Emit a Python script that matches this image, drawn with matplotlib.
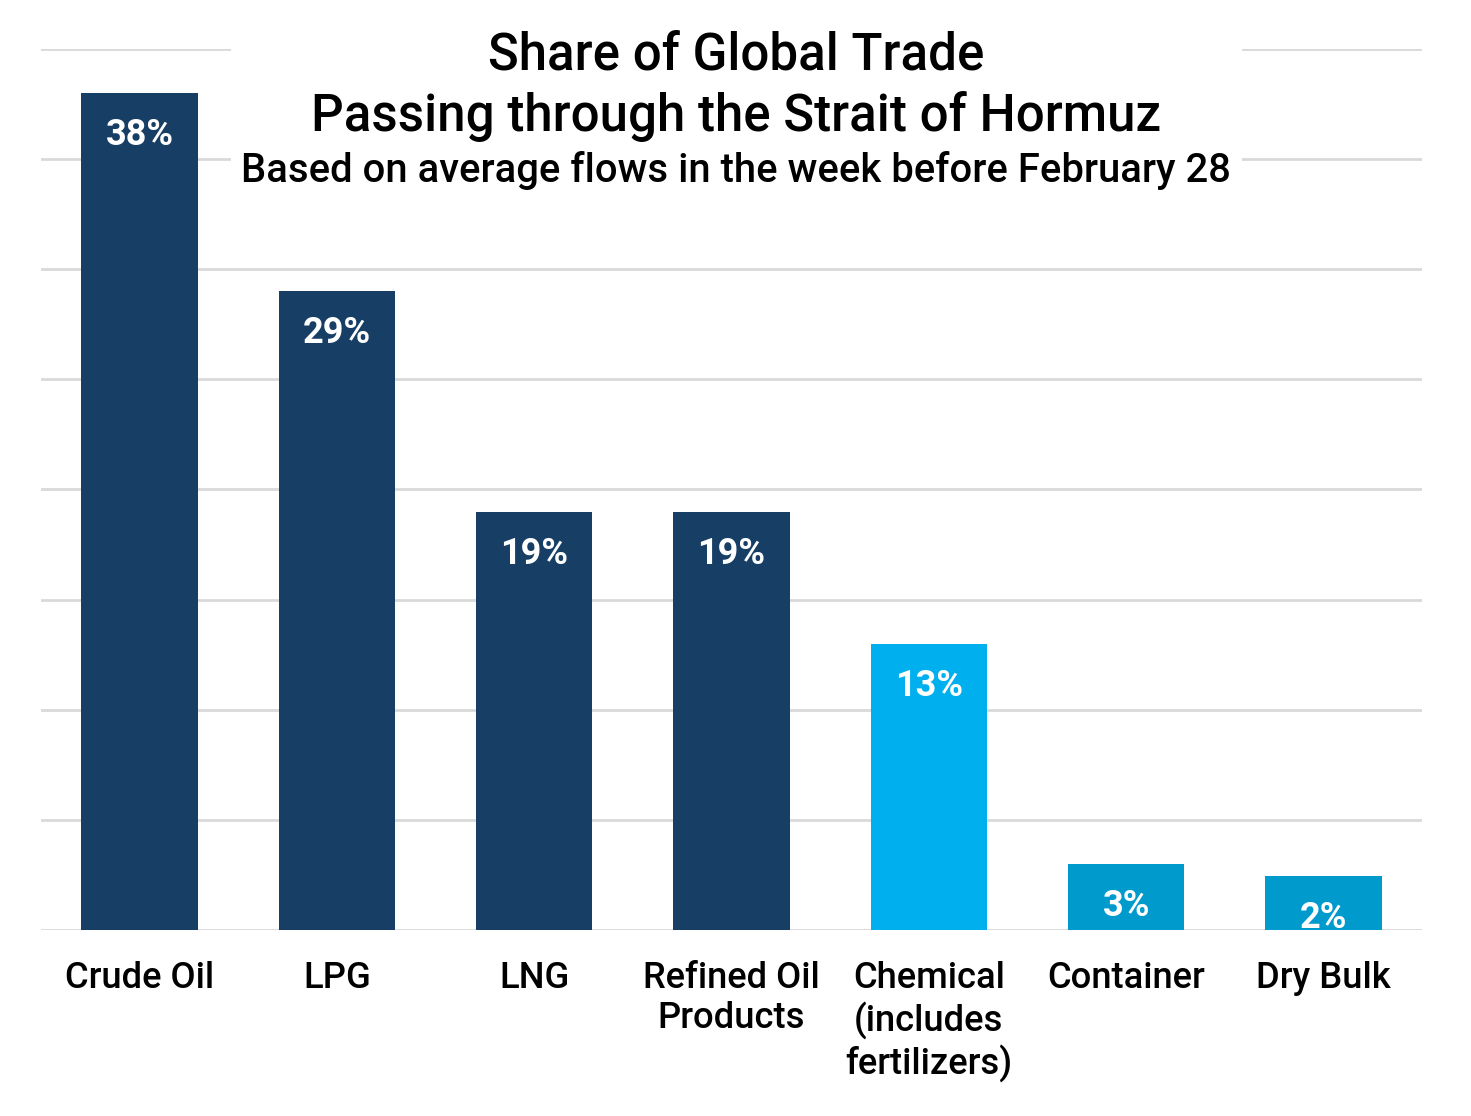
import numpy as np
import matplotlib.pyplot as plt
from matplotlib.patches import Rectangle

plt.rcParams['font.family'] = ['Roboto', 'DejaVu Sans']

# data
categories = ['Crude Oil', 'LPG', 'LNG', 'Refined Oil\nProducts',
              'Chemical\n(includes\nfertilizers)', 'Container', 'Dry Bulk']
shares = [38, 29, 19, 19, 13, 3, 2.45]
labels = ['38%', '29%', '19%', '19%', '13%', '3%', '2%']
colors = ['#173f66', '#173f66', '#173f66', '#173f66', '#00b0ee', '#009acd', '#009acd']

W, H = 1471, 1116
fig = plt.figure(figsize=(W / 100, H / 100), dpi=100)
ax = fig.add_axes([41 / W, 1 - 930 / H, (1422 - 41) / W, (930 - 49) / H])

x = np.arange(len(categories))
ax.bar(x, shares, width=0.59, color=colors, zorder=3)

for xi, v, lab in zip(x, shares, labels):
    ax.annotate(lab, (xi, v), xytext=(0, -42), textcoords='offset pixels',
                ha='center', va='center', color='white', fontsize=26,
                fontweight='bold', zorder=4)

ax.set_xlim(-0.5, len(categories) - 0.5)
ax.set_ylim(0, 40)
ax.set_yticks(np.arange(0, 41, 5))
ax.yaxis.grid(True, color='#d9d9d9', lw=2)
ax.set_axisbelow(True)
ax.tick_params(left=False, labelleft=False, bottom=False)
for s in ax.spines.values():
    s.set_visible(False)
ax.set_xticks(x)
ax.set_xticklabels(categories, fontsize=26.2, fontweight='medium', linespacing=1.18)
ax.tick_params(axis='x', pad=19)

# white box behind the title block
fig.add_artist(Rectangle((231 / W, 1 - 195 / H), (1242 - 231) / W, 170 / H,
                         transform=fig.transFigure, fc='white', ec='none', zorder=1))

fig.text(736 / W, 1 - 55 / H, 'Share of Global Trade', ha='center', va='center',
         fontsize=36.7, fontweight='medium', zorder=2)
fig.text(736 / W, 1 - 116 / H, 'Passing through the Strait of Hormuz', ha='center',
         va='center', fontsize=36.7, fontweight='medium', zorder=2)
fig.text(736 / W, 1 - 171 / H, 'Based on average flows in the week before February 28',
         ha='center', va='center', fontsize=28.8, fontweight='medium', zorder=2)

fig.savefig('out.png', dpi=100)
